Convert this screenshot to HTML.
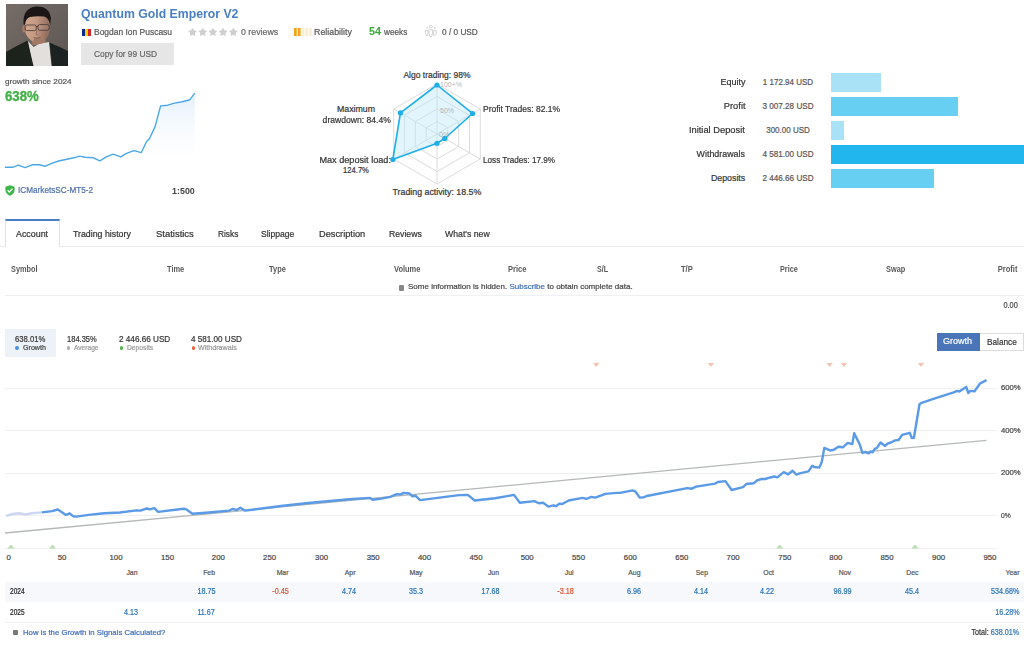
<!DOCTYPE html>
<html><head><meta charset="utf-8"><style>
html,body{margin:0;padding:0;background:#fff;width:1024px;height:645px;overflow:hidden;position:relative}
.t{position:absolute;white-space:nowrap;line-height:1;font-family:"Liberation Sans", sans-serif;-webkit-text-stroke:0.2px currentColor}
</style></head><body>
<svg style="position:absolute;left:6px;top:4px" width="62" height="62" viewBox="0 0 62 62">
<defs><linearGradient id="bgph" x1="0" y1="0" x2="1" y2="1"><stop offset="0" stop-color="#766d68"/><stop offset="1" stop-color="#5c5551"/></linearGradient>
<filter id="bl" x="-10%" y="-10%" width="120%" height="120%"><feGaussianBlur stdDeviation="0.6"/></filter>
<linearGradient id="skin" x1="0" y1="0" x2="1" y2="0.2"><stop offset="0" stop-color="#d2a890"/><stop offset="0.5" stop-color="#c49a84"/><stop offset="1" stop-color="#946e5e"/></linearGradient></defs>
<rect width="62" height="62" fill="url(#bgph)"/>
<g filter="url(#bl)">
<path d="M25 30 L39 30 L40 41 L26 41Z" fill="#9a7464"/>
<path d="M18.5 17 Q18.5 9 31 9 Q43.5 9 43.5 17 L43.5 27 Q42.5 35 35 38.5 Q31 40 27.5 38 Q20 33.5 19 27Z" fill="url(#skin)"/>
<ellipse cx="18" cy="25" rx="1.8" ry="3.6" fill="#a67a66"/>
<path d="M17.5 20 Q16.5 4 30 2.5 Q43 1.5 45 14 L44.2 21 Q43 14 38 12.5 Q30 11.8 24 13 Q19.5 14.5 19 21Z" fill="#1d1917"/>
<rect x="19.2" y="21" width="11" height="5.6" rx="1.6" fill="#cfae9a" fill-opacity="0.15" stroke="#3f3533" stroke-width="0.8"/>
<rect x="32" y="20.6" width="11" height="5.6" rx="1.6" fill="#cfae9a" fill-opacity="0.15" stroke="#3f3533" stroke-width="0.8"/>
<path d="M30.2 22.5 L32 22.3" stroke="#3f3533" stroke-width="0.8"/>
<path d="M31 26 L30 30 L32 31" stroke="#8a6252" stroke-width="0.7" fill="none"/>
<path d="M27.5 33.8 Q31 34.8 34.5 33.6" stroke="#6d4a3c" stroke-width="0.8" fill="none"/>
<path d="M22 37 L27.5 43 L33 40 L43 38 L45.5 62 L26.5 62Z" fill="#e2dfdc"/>
<path d="M26 38.5 L33 40 L39 38.5 L37.5 35 L28 35Z" fill="#a27866"/>
<path d="M0 48 Q10 42 21.5 36.5 L27.5 62 L0 62Z" fill="#1c201f"/>
<path d="M43.5 38.5 Q54 43 62 47 L62 62 L46 62Z" fill="#1d2120"/>
</g>
</svg>
<div class="t" style="top:7.73px;font-size:12.6px;color:#4a7ec2;font-weight:bold;-webkit-text-stroke:0;left:81.2px;transform:scaleX(0.9738);transform-origin:0 0;">Quantum Gold Emperor V2</div>
<div style="position:absolute;left:82px;top:29px;width:3px;height:6.5px;background:#0b2a8a;"></div>
<div style="position:absolute;left:85px;top:29px;width:3px;height:6.5px;background:#f5d000;"></div>
<div style="position:absolute;left:88px;top:29px;width:3px;height:6.5px;background:#d8202a;"></div>
<div class="t" style="top:27.58px;font-size:9.0px;color:#555;font-weight:normal;left:94px;transform:scaleX(0.9391);transform-origin:0 0;">Bogdan Ion Puscasu</div>
<svg style="position:absolute;left:0;top:0" width="1024" height="60"><polygon points="192.50,27.70 193.99,30.25 196.87,30.88 194.91,33.08 195.20,36.02 192.50,34.83 189.80,36.02 190.09,33.08 188.13,30.88 191.01,30.25" fill="#cfcfcf"/><polygon points="202.70,27.70 204.19,30.25 207.07,30.88 205.11,33.08 205.40,36.02 202.70,34.83 200.00,36.02 200.29,33.08 198.33,30.88 201.21,30.25" fill="#cfcfcf"/><polygon points="212.90,27.70 214.39,30.25 217.27,30.88 215.31,33.08 215.60,36.02 212.90,34.83 210.20,36.02 210.49,33.08 208.53,30.88 211.41,30.25" fill="#cfcfcf"/><polygon points="223.10,27.70 224.59,30.25 227.47,30.88 225.51,33.08 225.80,36.02 223.10,34.83 220.40,36.02 220.69,33.08 218.73,30.88 221.61,30.25" fill="#cfcfcf"/><polygon points="233.30,27.70 234.79,30.25 237.67,30.88 235.71,33.08 236.00,36.02 233.30,34.83 230.60,36.02 230.89,33.08 228.93,30.88 231.81,30.25" fill="#cfcfcf"/><rect x="294" y="28" width="2.8" height="8" fill="#f5a31f"/><rect x="297.8" y="28" width="2.8" height="8" fill="#f5a31f"/><rect x="301.6" y="28" width="2.8" height="8" fill="#feecd4"/><rect x="305.4" y="28" width="2.8" height="8" fill="#feecd4"/><rect x="309.2" y="28" width="2.8" height="8" fill="#feecd4"/><g fill="none" stroke="#cdcdcd" stroke-width="0.9"><ellipse cx="430.8" cy="26.6" rx="1.7" ry="1.2"/><path d="M428.9 29.6 L432.7 29.6 Q433.2 33 431.5 36.8 L430.1 36.8 Q428.4 33 428.9 29.6Z"/><path d="M425.4 30.6 L427.9 30.6 L428 35.2 Q427 36.2 426 35.2 Q425 33 425.4 30.6Z"/><path d="M436.2 30.6 L433.7 30.6 L433.6 35.2 Q434.6 36.2 435.6 35.2 Q436.6 33 436.2 30.6Z"/><circle cx="427" cy="27.9" r="0.9" fill="#d2d2d2" stroke="none"/><circle cx="434.6" cy="27.9" r="0.9" fill="#d2d2d2" stroke="none"/></g></svg>
<div class="t" style="top:27.58px;font-size:9.0px;color:#666;font-weight:normal;left:240.6px;transform:scaleX(0.9802);transform-origin:0 0;">0 reviews</div>
<div class="t" style="top:27.58px;font-size:9.0px;color:#555;font-weight:normal;left:314.4px;transform:scaleX(0.9817);transform-origin:0 0;">Reliability</div>
<div class="t" style="top:26.05px;font-size:11.4px;color:#3aaa3a;font-weight:bold;-webkit-text-stroke:0;left:368.6px;transform:scaleX(0.9524);transform-origin:0 0;">54</div>
<div class="t" style="top:27.58px;font-size:9.0px;color:#555;font-weight:normal;left:384.4px;transform:scaleX(0.9108);transform-origin:0 0;">weeks</div>
<div class="t" style="top:27.58px;font-size:9.0px;color:#555;font-weight:normal;left:442.3px;transform:scaleX(0.9186);transform-origin:0 0;">0 / 0 USD</div>
<div style="position:absolute;left:81px;top:43px;width:93px;height:22px;background:#e6e6e6;"></div>
<div class="t" style="top:49.72px;font-size:8.6px;color:#666;font-weight:normal;left:94.2px;transform:scaleX(0.9714);transform-origin:0 0;">Copy for 99 USD</div>
<div class="t" style="top:78.20px;font-size:7.8px;color:#555;font-weight:normal;left:4.6px;transform:scaleX(1.0525);transform-origin:0 0;">growth since 2024</div>
<div class="t" style="top:88.95px;font-size:14.0px;color:#43b047;font-weight:bold;-webkit-text-stroke:0;left:4.6px;transform:scaleX(0.9406);transform-origin:0 0;-webkit-text-stroke:0.35px currentColor;">638%</div>
<svg style="position:absolute;left:0;top:0" width="210" height="180">
<defs><linearGradient id="spg" x1="0" y1="0" x2="0" y2="1"><stop offset="0" stop-color="#e3effb"/><stop offset="1" stop-color="#ffffff" stop-opacity="0"/></linearGradient></defs>
<polygon points="4.9,167.3 12.6,167.3 18.1,165.2 25.1,167.6 32.1,164.8 39.1,164.8 45.3,166.2 51.6,163.4 58.6,161.0 66.9,159.2 73.9,157.8 79.5,156.1 85.1,157.2 93.4,157.8 99.9,160.8 106.2,156.9 113.1,154.1 120.8,156.9 126.4,153.4 134.1,150.6 141.1,152.7 146.6,141.5 149.4,138.7 155.0,126.9 160.6,105.9 167.6,105.2 174.6,103.1 182.2,101.8 189.9,99.7 194.8,93.1 194.8,170 4.9,170" fill="url(#spg)"/>
<polyline points="4.9,167.3 12.6,167.3 18.1,165.2 25.1,167.6 32.1,164.8 39.1,164.8 45.3,166.2 51.6,163.4 58.6,161.0 66.9,159.2 73.9,157.8 79.5,156.1 85.1,157.2 93.4,157.8 99.9,160.8 106.2,156.9 113.1,154.1 120.8,156.9 126.4,153.4 134.1,150.6 141.1,152.7 146.6,141.5 149.4,138.7 155.0,126.9 160.6,105.9 167.6,105.2 174.6,103.1 182.2,101.8 189.9,99.7 194.8,93.1" fill="none" stroke="#4aa8e8" stroke-width="1.4" stroke-linejoin="round"/>
</svg>
<svg style="position:absolute;left:5px;top:185px" width="10" height="11" viewBox="0 0 10 11"><path d="M5 0.3 L9.6 1.8 L9.6 5 Q9.6 8.8 5 10.7 Q0.4 8.8 0.4 5 L0.4 1.8Z" fill="#3db548"/><path d="M2.6 5.3 L4.3 7 L7.4 3.8" stroke="#fff" stroke-width="1.3" fill="none"/></svg>
<div class="t" style="top:186.32px;font-size:8.6px;color:#4d6fa8;font-weight:normal;left:17.6px;transform:scaleX(0.9531);transform-origin:0 0;">ICMarketsSC-MT5-2</div>
<div class="t" style="top:186.93px;font-size:9.3px;color:#444;font-weight:bold;-webkit-text-stroke:0;right:829px;transform:scaleX(0.9531);transform-origin:100% 0;">1:500</div>
<svg style="position:absolute;left:0;top:0" width="1024" height="210"><polygon points="437.00,121.50 447.83,127.75 447.83,140.25 437.00,146.50 426.17,140.25 426.17,127.75" fill="none" stroke="#dcdcdc" stroke-width="1"/><polygon points="437.00,109.00 458.65,121.50 458.65,146.50 437.00,159.00 415.35,146.50 415.35,121.50" fill="none" stroke="#dcdcdc" stroke-width="1"/><polygon points="437.00,96.50 469.48,115.25 469.48,152.75 437.00,171.50 404.52,152.75 404.52,115.25" fill="none" stroke="#dcdcdc" stroke-width="1"/><polygon points="437.00,84.00 480.30,109.00 480.30,159.00 437.00,184.00 393.70,159.00 393.70,109.00" fill="none" stroke="#dcdcdc" stroke-width="1"/><line x1="437" y1="134" x2="437.00" y2="84.00" stroke="#dcdcdc" stroke-width="1"/><line x1="437" y1="134" x2="480.30" y2="109.00" stroke="#dcdcdc" stroke-width="1"/><line x1="437" y1="134" x2="480.30" y2="159.00" stroke="#dcdcdc" stroke-width="1"/><line x1="437" y1="134" x2="437.00" y2="184.00" stroke="#dcdcdc" stroke-width="1"/><line x1="437" y1="134" x2="393.70" y2="159.00" stroke="#dcdcdc" stroke-width="1"/><line x1="437" y1="134" x2="393.70" y2="109.00" stroke="#dcdcdc" stroke-width="1"/><polygon points="437.00,85.00 472.55,113.48 444.75,138.47 437.00,143.25 392.83,159.50 400.45,112.90" fill="#bfe9fa" fill-opacity="0.45" stroke="#1eaee8" stroke-width="1.6" stroke-linejoin="round"/><circle cx="437.00" cy="85.00" r="2.6" fill="#1eaee8"/><circle cx="472.55" cy="113.48" r="2.6" fill="#1eaee8"/><circle cx="444.75" cy="138.47" r="2.6" fill="#1eaee8"/><circle cx="437.00" cy="143.25" r="2.6" fill="#1eaee8"/><circle cx="392.83" cy="159.50" r="2.6" fill="#1eaee8"/><circle cx="400.45" cy="112.90" r="2.6" fill="#1eaee8"/><text x="440" y="87.3" font-size="7" fill="#b5b5b5" font-family='"Liberation Sans"'>100+%</text><text x="440" y="112.8" font-size="7" fill="#b5b5b5" font-family='"Liberation Sans"'>50%</text><text x="439" y="137" font-size="7" fill="#b5b5b5" font-family='"Liberation Sans"'>0%</text></svg>
<div class="t" style="top:70.75px;font-size:8.8px;color:#333;font-weight:normal;left:437.2px;transform:translateX(-50%) scaleX(0.9667);transform-origin:50% 0;">Algo trading: 98%</div>
<div class="t" style="top:105.05px;font-size:8.8px;color:#333;font-weight:normal;left:356px;transform:translateX(-50%);transform-origin:50% 0;">Maximum</div>
<div class="t" style="top:115.55px;font-size:8.8px;color:#333;font-weight:normal;right:633px;transform:scaleX(0.9771);transform-origin:100% 0;">drawdown: 84.4%</div>
<div class="t" style="top:104.65px;font-size:8.8px;color:#333;font-weight:normal;left:482.6px;transform:scaleX(0.9670);transform-origin:0 0;">Profit Trades: 82.1%</div>
<div class="t" style="top:155.55px;font-size:8.8px;color:#333;font-weight:normal;left:482.6px;transform:scaleX(0.9259);transform-origin:0 0;">Loss Trades: 17.9%</div>
<div class="t" style="top:155.55px;font-size:8.8px;color:#333;font-weight:normal;right:633px;transform:scaleX(1.0379);transform-origin:100% 0;">Max deposit load:</div>
<div class="t" style="top:165.85px;font-size:8.8px;color:#333;font-weight:normal;left:356px;transform:translateX(-50%) scaleX(0.8629);transform-origin:50% 0;">124.7%</div>
<div class="t" style="top:187.75px;font-size:8.8px;color:#333;font-weight:normal;left:436.9px;transform:translateX(-50%);transform-origin:50% 0;">Trading activity: 18.5%</div>
<div style="position:absolute;left:831px;top:73px;width:50px;height:19px;background:#a9e2f7;"></div>
<div class="t" style="top:77.85px;font-size:8.8px;color:#333;font-weight:normal;right:278.79999999999995px;transform:scaleX(1.0219);transform-origin:100% 0;">Equity</div>
<div class="t" style="top:77.85px;font-size:8.8px;color:#555;font-weight:normal;left:788.2px;transform:translateX(-50%) scaleX(0.9106);transform-origin:50% 0;">1 172.94 USD</div>
<div style="position:absolute;left:831px;top:97px;width:127px;height:19px;background:#66cff2;"></div>
<div class="t" style="top:101.85px;font-size:8.8px;color:#333;font-weight:normal;right:278.79999999999995px;transform:scaleX(1.0575);transform-origin:100% 0;">Profit</div>
<div class="t" style="top:101.85px;font-size:8.8px;color:#555;font-weight:normal;left:788.2px;transform:translateX(-50%) scaleX(0.9252);transform-origin:50% 0;">3 007.28 USD</div>
<div style="position:absolute;left:831px;top:121px;width:13px;height:19px;background:#a9e2f7;"></div>
<div class="t" style="top:125.85px;font-size:8.8px;color:#333;font-weight:normal;right:278.79999999999995px;transform:scaleX(1.0588);transform-origin:100% 0;">Initial Deposit</div>
<div class="t" style="top:125.85px;font-size:8.8px;color:#555;font-weight:normal;left:788.2px;transform:translateX(-50%) scaleX(0.9102);transform-origin:50% 0;">300.00 USD</div>
<div style="position:absolute;left:831px;top:145px;width:193px;height:19px;background:#21b6ed;"></div>
<div class="t" style="top:149.85px;font-size:8.8px;color:#333;font-weight:normal;right:278.79999999999995px;transform:scaleX(1.0081);transform-origin:100% 0;">Withdrawals</div>
<div class="t" style="top:149.85px;font-size:8.8px;color:#555;font-weight:normal;left:788.2px;transform:translateX(-50%) scaleX(0.9252);transform-origin:50% 0;">4 581.00 USD</div>
<div style="position:absolute;left:831px;top:169px;width:103px;height:19px;background:#66cff2;"></div>
<div class="t" style="top:173.85px;font-size:8.8px;color:#333;font-weight:normal;right:278.79999999999995px;">Deposits</div>
<div class="t" style="top:173.85px;font-size:8.8px;color:#555;font-weight:normal;left:788.2px;transform:translateX(-50%) scaleX(0.9252);transform-origin:50% 0;">2 446.66 USD</div>
<div style="position:absolute;left:0px;top:246px;width:1024px;height:1px;background:#ececec;"></div>
<div style="position:absolute;left:5px;top:219px;width:55px;height:28px;background:#fff;border-left:1px solid #e3e3e3;border-right:1px solid #e3e3e3;border-top:2px solid #4a7ec2;box-sizing:border-box"></div>
<div class="t" style="top:229.52px;font-size:8.6px;color:#333;font-weight:normal;left:15.7px;transform:scaleX(1.0327);transform-origin:0 0;">Account</div>
<div class="t" style="top:229.52px;font-size:8.6px;color:#333;font-weight:normal;left:73.4px;transform:scaleX(1.0224);transform-origin:0 0;">Trading history</div>
<div class="t" style="top:229.52px;font-size:8.6px;color:#333;font-weight:normal;left:156.1px;transform:scaleX(1.1001);transform-origin:0 0;">Statistics</div>
<div class="t" style="top:229.52px;font-size:8.6px;color:#333;font-weight:normal;left:217.6px;transform:scaleX(0.9658);transform-origin:0 0;">Risks</div>
<div class="t" style="top:229.52px;font-size:8.6px;color:#333;font-weight:normal;left:261.1px;transform:scaleX(0.9950);transform-origin:0 0;">Slippage</div>
<div class="t" style="top:229.52px;font-size:8.6px;color:#333;font-weight:normal;left:318.6px;transform:scaleX(1.0762);transform-origin:0 0;">Description</div>
<div class="t" style="top:229.52px;font-size:8.6px;color:#333;font-weight:normal;left:388.6px;transform:scaleX(1.0100);transform-origin:0 0;">Reviews</div>
<div class="t" style="top:229.52px;font-size:8.6px;color:#333;font-weight:normal;left:445.1px;transform:scaleX(1.0124);transform-origin:0 0;">What's new</div>
<div class="t" style="top:265.32px;font-size:8.6px;color:#5a5a5a;font-weight:bold;-webkit-text-stroke:0;left:10.6px;transform:scaleX(0.8548);transform-origin:0 0;">Symbol</div>
<div class="t" style="top:265.32px;font-size:8.6px;color:#5a5a5a;font-weight:bold;-webkit-text-stroke:0;left:167.2px;transform:scaleX(0.8647);transform-origin:0 0;">Time</div>
<div class="t" style="top:265.32px;font-size:8.6px;color:#5a5a5a;font-weight:bold;-webkit-text-stroke:0;left:269.1px;transform:scaleX(0.8656);transform-origin:0 0;">Type</div>
<div class="t" style="top:265.32px;font-size:8.6px;color:#5a5a5a;font-weight:bold;-webkit-text-stroke:0;left:394px;transform:scaleX(0.8687);transform-origin:0 0;">Volume</div>
<div class="t" style="top:265.32px;font-size:8.6px;color:#5a5a5a;font-weight:bold;-webkit-text-stroke:0;left:508px;transform:scaleX(0.8756);transform-origin:0 0;">Price</div>
<div class="t" style="top:265.32px;font-size:8.6px;color:#5a5a5a;font-weight:bold;-webkit-text-stroke:0;left:596.6px;transform:scaleX(0.8384);transform-origin:0 0;">S/L</div>
<div class="t" style="top:265.32px;font-size:8.6px;color:#5a5a5a;font-weight:bold;-webkit-text-stroke:0;left:680.6px;transform:scaleX(0.8800);transform-origin:0 0;">T/P</div>
<div class="t" style="top:265.32px;font-size:8.6px;color:#5a5a5a;font-weight:bold;-webkit-text-stroke:0;left:780.3px;transform:scaleX(0.8473);transform-origin:0 0;">Price</div>
<div class="t" style="top:265.32px;font-size:8.6px;color:#5a5a5a;font-weight:bold;-webkit-text-stroke:0;left:886.3px;transform:scaleX(0.8560);transform-origin:0 0;">Swap</div>
<div class="t" style="top:265.32px;font-size:8.6px;color:#5a5a5a;font-weight:bold;-webkit-text-stroke:0;right:6.399999999999977px;transform:scaleX(0.8815);transform-origin:100% 0;">Profit</div>
<div style="position:absolute;left:398.5px;top:285px;width:5.5px;height:5.5px;background:#888;border-radius:1px"></div>
<div class="t" style="top:283.28px;font-size:7.7px;color:#444;font-weight:normal;left:407.6px;transform:scaleX(1.0410);transform-origin:0 0;">Some information is hidden. <span style="color:#3d6db5">Subscribe</span> to obtain complete data.</div>
<div style="position:absolute;left:5px;top:295px;width:1019px;height:1px;background:#eef0f3;"></div>
<div class="t" style="top:301.42px;font-size:8.6px;color:#444;font-weight:normal;right:6.399999999999977px;transform:scaleX(0.8556);transform-origin:100% 0;">0.00</div>
<div style="position:absolute;left:5px;top:329px;width:51px;height:28px;background:#edf2f9;"></div>
<div class="t" style="top:335.14px;font-size:8.7px;color:#333;font-weight:normal;left:14.6px;transform:scaleX(0.8880);transform-origin:0 0;">638.01%</div>
<div class="t" style="top:335.14px;font-size:8.7px;color:#333;font-weight:normal;left:66.7px;transform:scaleX(0.8678);transform-origin:0 0;">184.35%</div>
<div class="t" style="top:335.14px;font-size:8.7px;color:#333;font-weight:normal;left:119.1px;transform:scaleX(0.9392);transform-origin:0 0;">2 446.66 USD</div>
<div class="t" style="top:335.14px;font-size:8.7px;color:#333;font-weight:normal;left:190.6px;transform:scaleX(0.9337);transform-origin:0 0;">4 581.00 USD</div>
<div style="position:absolute;left:15.1px;top:346.1px;width:3.8px;height:3.8px;border-radius:50%;background:#4a8fe0"></div>
<div class="t" style="top:344.96px;font-size:6.9px;color:#444;font-weight:normal;left:22.6px;transform:scaleX(1.0323);transform-origin:0 0;">Growth</div>
<div style="position:absolute;left:66.5px;top:346.1px;width:3.8px;height:3.8px;border-radius:50%;background:#a9b0b8"></div>
<div class="t" style="top:344.96px;font-size:6.9px;color:#999;font-weight:normal;left:74px;transform:scaleX(0.9608);transform-origin:0 0;">Average</div>
<div style="position:absolute;left:119.6px;top:346.1px;width:3.8px;height:3.8px;border-radius:50%;background:#52b34a"></div>
<div class="t" style="top:344.96px;font-size:6.9px;color:#999;font-weight:normal;left:127.4px;transform:scaleX(0.9757);transform-origin:0 0;">Deposits</div>
<div style="position:absolute;left:191.6px;top:346.1px;width:3.8px;height:3.8px;border-radius:50%;background:#e8643c"></div>
<div class="t" style="top:344.96px;font-size:6.9px;color:#999;font-weight:normal;left:198.3px;transform:scaleX(1.0347);transform-origin:0 0;">Withdrawals</div>
<div style="position:absolute;left:936.5px;top:333px;width:43.5px;height:18px;background:#4a76b9;"></div>
<div style="position:absolute;left:980px;top:333px;width:44px;height:18px;border:1px solid #dcdcdc;border-left:none;box-sizing:border-box;background:#fff"></div>
<div class="t" style="top:337.42px;font-size:8.6px;color:#fff;font-weight:normal;left:943.2px;transform:scaleX(1.0494);transform-origin:0 0;">Growth</div>
<div class="t" style="top:336.94px;font-size:9.4px;color:#333;font-weight:normal;left:986.7px;transform:scaleX(0.8792);transform-origin:0 0;">Balance</div>
<svg style="position:absolute;left:0;top:0" width="1024" height="645"><line x1="5" y1="388.5" x2="997" y2="388.5" stroke="#efefef" stroke-width="1"/><line x1="5" y1="430.5" x2="997" y2="430.5" stroke="#efefef" stroke-width="1"/><line x1="5" y1="473.5" x2="997" y2="473.5" stroke="#efefef" stroke-width="1"/><line x1="5" y1="515.5" x2="997" y2="515.5" stroke="#efefef" stroke-width="1"/><line x1="5" y1="548.5" x2="997" y2="548.5" stroke="#efefef" stroke-width="1"/><line x1="5" y1="533" x2="986.5" y2="440.4" stroke="#b4b8b8" stroke-width="1.3"/><polyline points="6.1,515.8 12.7,514.0 19.0,513.3 25.4,514.5 31.7,513.3 41.9,512.4" fill="none" stroke="#cdd6f2" stroke-width="2.4" stroke-linejoin="round"/><polyline points="41.9,512.4 52.0,511.1 57.8,509.5 66.0,514.9 69.6,513.3 73.0,516.2 76.2,516.6 88.9,514.9 104.0,513.3 120.0,512.5 136.5,510.4 140.3,510.6 146.7,508.5 149.8,509.4 154.3,508.1 158.1,511.9 183.5,508.7 186.0,509.1 192.4,513.8 208.9,512.5 229.2,510.6 232.4,509.0 236.8,510.0 240.3,507.8 245.0,510.6 250.0,510.0 283.1,505.8 308.5,503.0 349.1,499.2 370.0,497.9 372.5,499.8 381.4,498.6 390.3,496.9 396.7,494.1 400.5,494.4 403.6,492.9 409.4,493.5 412.5,496.3 415.7,495.8 420.1,500.1 458.9,495.1 467.8,494.9 474.7,500.5 495.0,498.2 514.0,494.9 519.8,502.8 534.4,501.1 538.8,503.3 543.2,502.8 548.3,506.6 553.4,505.3 555.9,506.2 559.7,503.6 562.3,504.0 568.6,500.5 582.6,497.9 586.4,498.9 591.5,496.9 595.3,497.7 605.4,493.9 616.9,492.9 620.0,492.9 632.7,490.4 635.2,491.3 639.7,497.6 644.1,497.2 646.7,496.0 687.3,488.1 691.7,488.7 696.2,486.6 715.2,483.6 717.8,482.0 725.4,481.1 731.7,490.0 743.1,487.1 746.3,484.0 753.9,483.2 757.1,480.3 761.5,479.0 765.3,479.0 767.9,478.1 774.2,476.5 777.4,477.4 783.7,472.1 788.2,474.3 792.6,470.8 796.4,474.6 799.6,473.3 808.5,471.4 812.3,465.7 814.2,467.0 819.3,467.6 821.8,461.9 824.3,447.9 828.8,449.8 830.1,450.5 833.9,449.8 838.3,446.7 842.8,447.3 847.8,442.9 852.3,444.1 854.2,433.3 856.7,438.4 859.9,444.8 862.4,453.0 865.0,452.0 868.8,453.3 870.7,451.5 872.5,452.3 874.9,448.8 877.0,447.8 880.5,442.5 885.1,446.0 887.4,443.7 890.9,442.5 895.1,440.4 898.6,440.0 902.1,434.9 909.8,432.8 911.8,438.1 913.9,437.7 919.5,404.2 921.6,402.8 934.2,398.6 953.7,392.3 957.2,390.9 959.3,391.6 966.2,387.0 968.3,393.0 970.4,390.9 974.6,391.2 980.2,383.3 986.5,380.2" fill="none" stroke="#5a9ae6" stroke-width="2.4" stroke-linejoin="round"/><polygon points="7.5,548.5 14.5,548.5 11,544.5" fill="#b9dfb0"/><polygon points="49.0,548.5 56.0,548.5 52.5,544.5" fill="#b9dfb0"/><polygon points="776.2,548.5 783.2,548.5 779.7,544.5" fill="#b9dfb0"/><polygon points="911.5,548.5 918.5,548.5 915,544.5" fill="#b9dfb0"/><polygon points="593.0,363 599.4000000000001,363 596.2,367" fill="#f6c4b0"/><polygon points="707.6999999999999,363 714.1,363 710.9,367" fill="#f6c4b0"/><polygon points="826.4,363 832.8000000000001,363 829.6,367" fill="#f6c4b0"/><polygon points="840.8,363 847.2,363 844,367" fill="#f6c4b0"/><polygon points="917.8,363 924.2,363 921,367" fill="#f6c4b0"/></svg>
<div class="t" style="top:384.20px;font-size:7.8px;color:#444;font-weight:normal;left:1000.6px;transform:scaleX(0.9896);transform-origin:0 0;">600%</div>
<div class="t" style="top:426.70px;font-size:7.8px;color:#444;font-weight:normal;left:1000.6px;transform:scaleX(0.9896);transform-origin:0 0;">400%</div>
<div class="t" style="top:469.20px;font-size:7.8px;color:#444;font-weight:normal;left:1000.6px;transform:scaleX(0.9896);transform-origin:0 0;">200%</div>
<div class="t" style="top:511.70px;font-size:7.8px;color:#444;font-weight:normal;left:1000.6px;transform:scaleX(0.8645);transform-origin:0 0;">0%</div>
<div class="t" style="top:553.50px;font-size:7.8px;color:#444;font-weight:normal;left:8.6px;transform:translateX(-50%);transform-origin:50% 0;">0</div>
<div class="t" style="top:553.50px;font-size:7.8px;color:#444;font-weight:normal;left:62px;transform:translateX(-50%);transform-origin:50% 0;">50</div>
<div class="t" style="top:553.50px;font-size:7.8px;color:#444;font-weight:normal;left:116px;transform:translateX(-50%);transform-origin:50% 0;">100</div>
<div class="t" style="top:553.50px;font-size:7.8px;color:#444;font-weight:normal;left:167.5px;transform:translateX(-50%);transform-origin:50% 0;">150</div>
<div class="t" style="top:553.50px;font-size:7.8px;color:#444;font-weight:normal;left:218.3px;transform:translateX(-50%);transform-origin:50% 0;">200</div>
<div class="t" style="top:553.50px;font-size:7.8px;color:#444;font-weight:normal;left:269.6px;transform:translateX(-50%);transform-origin:50% 0;">250</div>
<div class="t" style="top:553.50px;font-size:7.8px;color:#444;font-weight:normal;left:321.6px;transform:translateX(-50%);transform-origin:50% 0;">300</div>
<div class="t" style="top:553.50px;font-size:7.8px;color:#444;font-weight:normal;left:373.2px;transform:translateX(-50%);transform-origin:50% 0;">350</div>
<div class="t" style="top:553.50px;font-size:7.8px;color:#444;font-weight:normal;left:424.5px;transform:translateX(-50%);transform-origin:50% 0;">400</div>
<div class="t" style="top:553.50px;font-size:7.8px;color:#444;font-weight:normal;left:476px;transform:translateX(-50%);transform-origin:50% 0;">450</div>
<div class="t" style="top:553.50px;font-size:7.8px;color:#444;font-weight:normal;left:527.2px;transform:translateX(-50%);transform-origin:50% 0;">500</div>
<div class="t" style="top:553.50px;font-size:7.8px;color:#444;font-weight:normal;left:578.5px;transform:translateX(-50%);transform-origin:50% 0;">550</div>
<div class="t" style="top:553.50px;font-size:7.8px;color:#444;font-weight:normal;left:630.3px;transform:translateX(-50%);transform-origin:50% 0;">600</div>
<div class="t" style="top:553.50px;font-size:7.8px;color:#444;font-weight:normal;left:681.8px;transform:translateX(-50%);transform-origin:50% 0;">650</div>
<div class="t" style="top:553.50px;font-size:7.8px;color:#444;font-weight:normal;left:733.1px;transform:translateX(-50%);transform-origin:50% 0;">700</div>
<div class="t" style="top:553.50px;font-size:7.8px;color:#444;font-weight:normal;left:784.8px;transform:translateX(-50%);transform-origin:50% 0;">750</div>
<div class="t" style="top:553.50px;font-size:7.8px;color:#444;font-weight:normal;left:835.8px;transform:translateX(-50%);transform-origin:50% 0;">800</div>
<div class="t" style="top:553.50px;font-size:7.8px;color:#444;font-weight:normal;left:887px;transform:translateX(-50%);transform-origin:50% 0;">850</div>
<div class="t" style="top:553.50px;font-size:7.8px;color:#444;font-weight:normal;left:938.6px;transform:translateX(-50%);transform-origin:50% 0;">900</div>
<div class="t" style="top:553.50px;font-size:7.8px;color:#444;font-weight:normal;left:989.9px;transform:translateX(-50%);transform-origin:50% 0;">950</div>
<div style="position:absolute;left:5px;top:581.5px;width:1019px;height:20.5px;background:#f6f8fc;"></div>
<div style="position:absolute;left:5px;top:622px;width:1019px;height:1px;background:#eef0f4;"></div>
<div class="t" style="top:570.46px;font-size:6.9px;color:#555;font-weight:normal;right:886.5px;">Jan</div>
<div class="t" style="top:570.46px;font-size:6.9px;color:#555;font-weight:normal;right:809px;">Feb</div>
<div class="t" style="top:570.46px;font-size:6.9px;color:#555;font-weight:normal;right:735.5px;">Mar</div>
<div class="t" style="top:570.46px;font-size:6.9px;color:#555;font-weight:normal;right:668.5px;">Apr</div>
<div class="t" style="top:570.46px;font-size:6.9px;color:#555;font-weight:normal;right:601.5px;">May</div>
<div class="t" style="top:570.46px;font-size:6.9px;color:#555;font-weight:normal;right:525px;">Jun</div>
<div class="t" style="top:570.46px;font-size:6.9px;color:#555;font-weight:normal;right:450.5px;">Jul</div>
<div class="t" style="top:570.46px;font-size:6.9px;color:#555;font-weight:normal;right:383.5px;">Aug</div>
<div class="t" style="top:570.46px;font-size:6.9px;color:#555;font-weight:normal;right:316px;">Sep</div>
<div class="t" style="top:570.46px;font-size:6.9px;color:#555;font-weight:normal;right:250px;">Oct</div>
<div class="t" style="top:570.46px;font-size:6.9px;color:#555;font-weight:normal;right:173px;">Nov</div>
<div class="t" style="top:570.46px;font-size:6.9px;color:#555;font-weight:normal;right:105.5px;">Dec</div>
<div class="t" style="top:570.46px;font-size:6.9px;color:#555;font-weight:normal;right:4.5px;">Year</div>
<div class="t" style="top:588.46px;font-size:8.2px;color:#222;font-weight:normal;left:9.8px;transform:scaleX(0.7985);transform-origin:0 0;">2024</div>
<div class="t" style="top:608.66px;font-size:8.2px;color:#222;font-weight:normal;left:9.8px;transform:scaleX(0.7985);transform-origin:0 0;">2025</div>
<div class="t" style="top:588.46px;font-size:8.2px;color:#2b74b6;font-weight:normal;right:809px;transform:scaleX(0.8800);transform-origin:100% 0;">18.75</div>
<div class="t" style="top:588.46px;font-size:8.2px;color:#e0502a;font-weight:normal;right:735.5px;transform:scaleX(0.8800);transform-origin:100% 0;">-0.45</div>
<div class="t" style="top:588.46px;font-size:8.2px;color:#2b74b6;font-weight:normal;right:668.5px;transform:scaleX(0.8800);transform-origin:100% 0;">4.74</div>
<div class="t" style="top:588.46px;font-size:8.2px;color:#2b74b6;font-weight:normal;right:601.5px;transform:scaleX(0.8800);transform-origin:100% 0;">35.3</div>
<div class="t" style="top:588.46px;font-size:8.2px;color:#2b74b6;font-weight:normal;right:525px;transform:scaleX(0.8800);transform-origin:100% 0;">17.68</div>
<div class="t" style="top:588.46px;font-size:8.2px;color:#e0502a;font-weight:normal;right:450.5px;transform:scaleX(0.8800);transform-origin:100% 0;">-3.18</div>
<div class="t" style="top:588.46px;font-size:8.2px;color:#2b74b6;font-weight:normal;right:383.5px;transform:scaleX(0.8800);transform-origin:100% 0;">6.96</div>
<div class="t" style="top:588.46px;font-size:8.2px;color:#2b74b6;font-weight:normal;right:316px;transform:scaleX(0.8800);transform-origin:100% 0;">4.14</div>
<div class="t" style="top:588.46px;font-size:8.2px;color:#2b74b6;font-weight:normal;right:250px;transform:scaleX(0.8800);transform-origin:100% 0;">4.22</div>
<div class="t" style="top:588.46px;font-size:8.2px;color:#2b74b6;font-weight:normal;right:173px;transform:scaleX(0.8800);transform-origin:100% 0;">96.99</div>
<div class="t" style="top:588.46px;font-size:8.2px;color:#2b74b6;font-weight:normal;right:105.5px;transform:scaleX(0.8800);transform-origin:100% 0;">45.4</div>
<div class="t" style="top:588.46px;font-size:8.2px;color:#2b74b6;font-weight:normal;right:4.5px;transform:scaleX(0.8800);transform-origin:100% 0;">534.68%</div>
<div class="t" style="top:608.66px;font-size:8.2px;color:#2b74b6;font-weight:normal;right:886.5px;transform:scaleX(0.8800);transform-origin:100% 0;">4.13</div>
<div class="t" style="top:608.66px;font-size:8.2px;color:#2b74b6;font-weight:normal;right:809px;transform:scaleX(0.8800);transform-origin:100% 0;">11.67</div>
<div class="t" style="top:608.66px;font-size:8.2px;color:#2b74b6;font-weight:normal;right:4.5px;transform:scaleX(0.8800);transform-origin:100% 0;">16.28%</div>
<div style="position:absolute;left:12.7px;top:629.5px;width:5.6px;height:5.6px;background:#777;border-radius:1px"></div>
<div class="t" style="top:629.07px;font-size:7.6px;color:#3d6db5;font-weight:normal;left:22.5px;transform:scaleX(1.0226);transform-origin:0 0;">How is the Growth in Signals Calculated?</div>
<div class="t" style="top:628.56px;font-size:8.2px;color:#333;font-weight:normal;right:4.5px;transform:scaleX(0.8800);transform-origin:100% 0;">Total: <span style="color:#2b74b6">638.01%</span></div>
</body></html>
